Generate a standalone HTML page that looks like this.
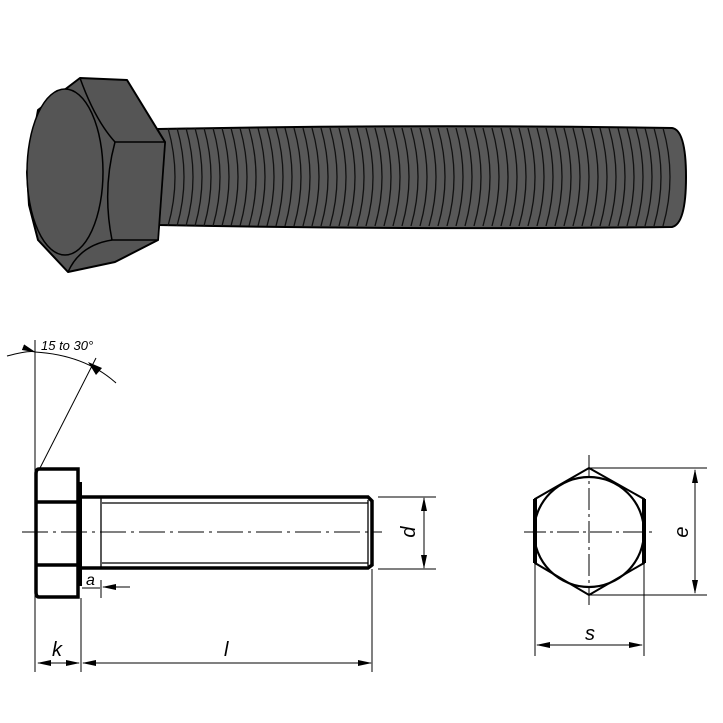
<!DOCTYPE html>
<html><head><meta charset="utf-8"><style>
html,body{margin:0;padding:0;background:#fff}
svg{display:block}
text{font-family:"Liberation Sans",sans-serif;fill:#000}
</style></head><body>
<svg width="723" height="723" viewBox="0 0 723 723" xmlns="http://www.w3.org/2000/svg">
<defs>
<marker id="ar" markerWidth="14" markerHeight="8" refX="13" refY="4" orient="auto" markerUnits="userSpaceOnUse"><path d="M0,1 L14,4 L0,7 z" fill="#000"/></marker>
<marker id="al" markerWidth="14" markerHeight="8" refX="1" refY="4" orient="auto" markerUnits="userSpaceOnUse"><path d="M14,1 L0,4 L14,7 z" fill="#000"/></marker>
</defs>
<!-- 3D bolt -->
<g stroke="#000" stroke-width="2" fill="#585858">
<path d="M158,129 Q420,124 672,128 Q686,130 686,177 Q686,224 672,227 Q420,230 158,225 z"/>
</g>
<g stroke="#111" stroke-width="1.3" fill="none">
<path d="M168,128 q14,49 0,98"/><path d="M177,128 q14,49 0,98"/><path d="M186,128 q14,49 0,98"/><path d="M195,128 q14,49 0,98"/><path d="M204,128 q14,49 0,98"/><path d="M213,128 q14,49 0,98"/><path d="M222,128 q14,49 0,98"/><path d="M231,128 q14,49 0,98"/><path d="M240,128 q14,49 0,98"/><path d="M249,128 q14,49 0,98"/><path d="M258,128 q14,49 0,98"/><path d="M267,128 q14,49 0,98"/><path d="M276,128 q14,49 0,98"/><path d="M285,128 q14,49 0,98"/><path d="M294,128 q14,49 0,98"/><path d="M303,128 q14,49 0,98"/><path d="M312,128 q14,49 0,98"/><path d="M321,128 q14,49 0,98"/><path d="M330,128 q14,49 0,98"/><path d="M339,128 q14,49 0,98"/><path d="M348,128 q14,49 0,98"/><path d="M357,128 q14,49 0,98"/><path d="M366,128 q14,49 0,98"/><path d="M375,128 q14,49 0,98"/><path d="M384,128 q14,49 0,98"/><path d="M393,128 q14,49 0,98"/><path d="M402,128 q14,49 0,98"/><path d="M411,128 q14,49 0,98"/><path d="M420,128 q14,49 0,98"/><path d="M429,128 q14,49 0,98"/><path d="M438,128 q14,49 0,98"/><path d="M447,128 q14,49 0,98"/><path d="M456,128 q14,49 0,98"/><path d="M465,128 q14,49 0,98"/><path d="M474,128 q14,49 0,98"/><path d="M483,128 q14,49 0,98"/><path d="M492,128 q14,49 0,98"/><path d="M501,128 q14,49 0,98"/><path d="M510,128 q14,49 0,98"/><path d="M519,128 q14,49 0,98"/><path d="M528,128 q14,49 0,98"/><path d="M537,128 q14,49 0,98"/><path d="M546,128 q14,49 0,98"/><path d="M555,128 q14,49 0,98"/><path d="M564,128 q14,49 0,98"/><path d="M573,128 q14,49 0,98"/><path d="M582,128 q14,49 0,98"/><path d="M591,128 q14,49 0,98"/><path d="M600,128 q14,49 0,98"/><path d="M609,128 q14,49 0,98"/><path d="M618,128 q14,49 0,98"/><path d="M627,128 q14,49 0,98"/><path d="M636,128 q14,49 0,98"/><path d="M645,128 q14,49 0,98"/><path d="M654,128 q14,49 0,98"/><path d="M663,128 q14,49 0,98"/>
</g>
<g stroke="#000" stroke-width="2" fill="#555" stroke-linejoin="round">
<path d="M80,78 L127,80 L165,142 L158,240 L115,262 L68,272 L38,240 L29,205 L27,172 L38,110 z"/>
<path d="M115,142 L165,142 L158,240 L112,240 Q102,190 115,142 z" stroke-width="1.5"/>
<path d="M80,78 Q95,120 115,142 M112,240 Q80,245 68,272" fill="none" stroke-width="1.5"/>
<ellipse cx="65" cy="172" rx="38" ry="83" stroke-width="1.5"/>
</g>
<!-- side view -->
<g stroke="#000" fill="none">
<path d="M39,469 L78,469 L78,597 L39,597 Q36,597 36,592 L36,474 Q36,469 39,469 z" stroke-width="3.5"/>
<path d="M37,502 L78,502 M37,565 L78,565" stroke-width="3.5"/>
<path d="M80,482 L80,586" stroke-width="4"/>
<path d="M82,497 L368,497 L372,501 L372,565 L368,568 L82,568" stroke-width="3.5"/>
<path d="M102,503 L368,503 M102,563 L368,563 M101,497 L101,568 M368,500 L368,566" stroke-width="1.3"/>
<path d="M22,532 L382,532" stroke-width="1" stroke-dasharray="26,5,3,5"/>
<path d="M35,340 L35,672 M81,598 L81,672 M372,569 L372,672 M378,497 L436,497 M378,569 L436,569 M40,468 L96,358" stroke-width="1"/>
<path d="M38,663 L79,663" stroke-width="1" marker-start="url(#al)" marker-end="url(#ar)"/>
<path d="M83,663 L371,663" stroke-width="1" marker-start="url(#al)" marker-end="url(#ar)"/>
<path d="M424,498 L424,568" stroke-width="1" marker-start="url(#al)" marker-end="url(#ar)"/>
<path d="M82,588 L100,588 M101,580 L101,598" stroke-width="1"/>
<path d="M130,587 L103,587" stroke-width="1" marker-end="url(#ar)"/>
<path d="M7,356 Q30,350 35,352" stroke-width="1" marker-end="url(#ar)"/>
<path d="M35,352 Q85,355 116,383" stroke-width="1"/>
</g>
<path d="M88,362 L102,368 L96,375 z" fill="#000"/>
<text x="41" y="350" font-size="13" font-style="italic">15 to 30°</text>
<text x="52" y="656" font-size="20" font-style="italic">k</text>
<text x="224" y="656" font-size="20" font-style="italic">l</text>
<text x="86" y="585" font-size="16" font-style="italic">a</text>
<text x="0" y="0" font-size="20" font-style="italic" transform="translate(415,532) rotate(-90)" text-anchor="middle">d</text>
<!-- end view -->
<g stroke="#000" fill="none">
<path d="M589,468 L644,499 L644,563 L589,595 L535,563 L535,499 z" stroke-width="2"/>
<path d="M535,499 L535,563 M644,499 L644,563" stroke-width="4"/>
<circle cx="589" cy="532" r="55" stroke-width="2.2"/>
<path d="M524,532 L656,532 M589,455 L589,605" stroke-width="1" stroke-dasharray="22,4,3,4"/>
<path d="M589,468 L707,468 M589,595 L707,595 M535,563 L535,656 M644,563 L644,656" stroke-width="1"/>
<path d="M695,470 L695,593" stroke-width="1" marker-start="url(#al)" marker-end="url(#ar)"/>
<path d="M537,645 L642,645" stroke-width="1" marker-start="url(#al)" marker-end="url(#ar)"/>
</g>
<text x="590" y="640" font-size="20" font-style="italic" text-anchor="middle">s</text>
<text x="0" y="0" font-size="20" font-style="italic" transform="translate(688,532) rotate(-90)" text-anchor="middle">e</text>
</svg>
</body></html>
